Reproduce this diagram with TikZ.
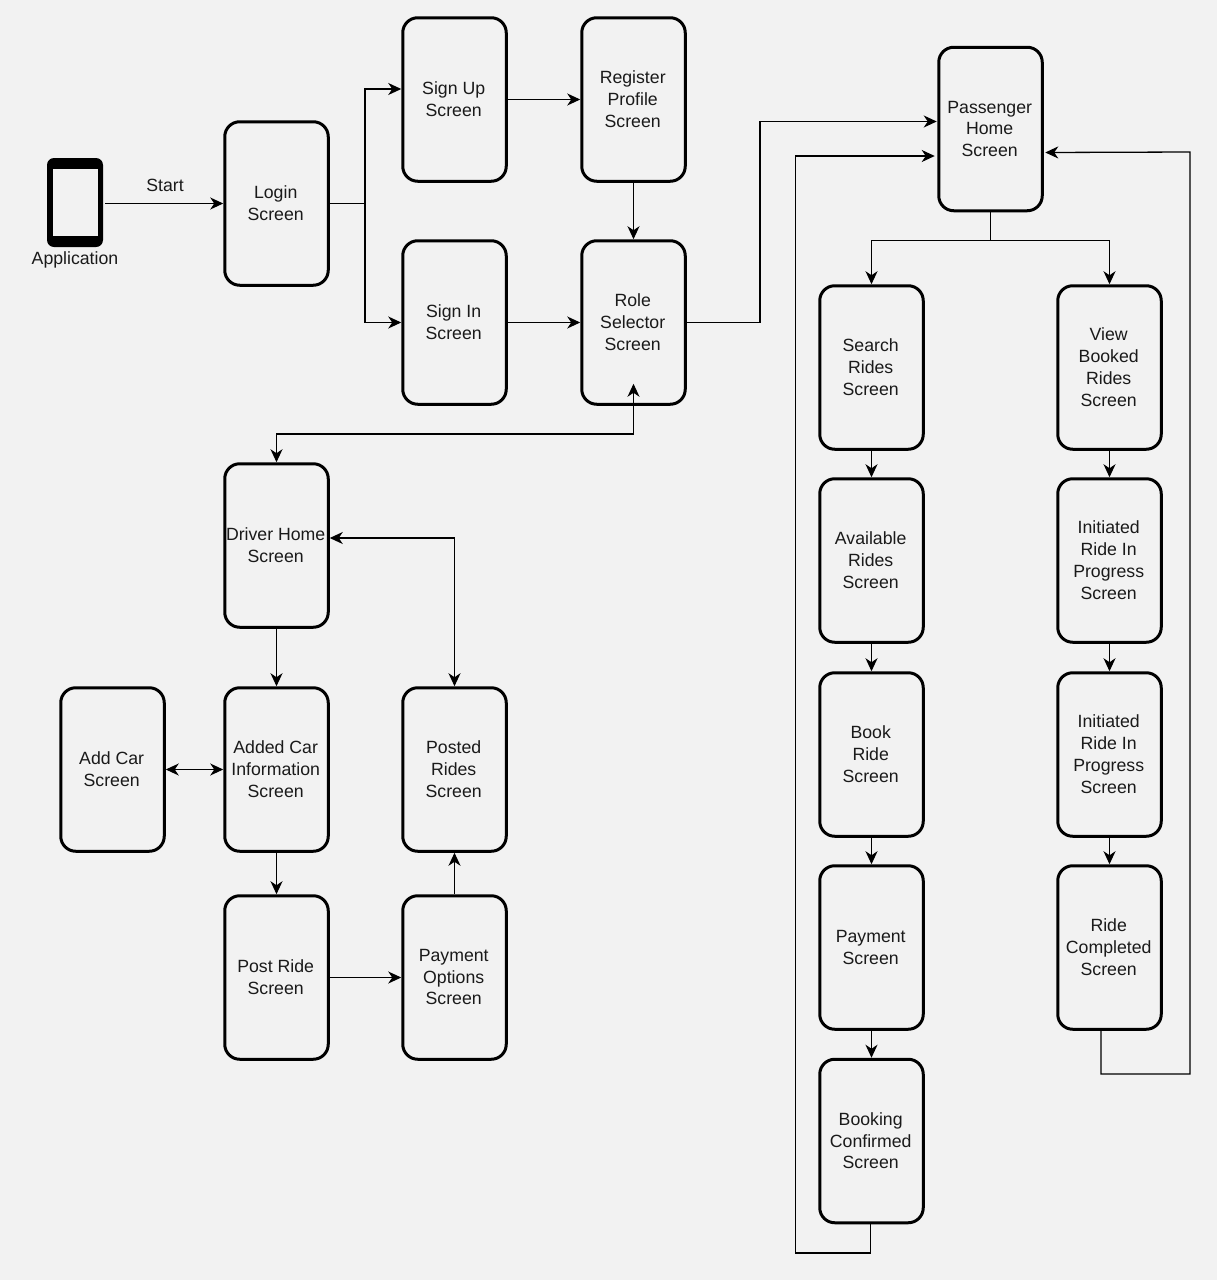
\documentclass[tikz,border=0pt]{standalone}
\usepackage{fontspec}
\setmainfont{Liberation Sans}
\usetikzlibrary{arrows.meta}
\definecolor{bgc}{HTML}{F2F2F2}
\definecolor{txtc}{HTML}{1A1A1A}
\tikzset{
  screen/.style={draw=black,line width=3pt,rounded corners=15pt,minimum width=103.5pt,minimum height=163.5pt,inner sep=0pt,fill=none},
  screentext/.style={align=center,inner sep=0pt,text=txtc,font=\fontsize{17.7pt}{21.7pt}\selectfont},
  conn/.style={draw=black,line width=1.3pt,-{Stealth[length=13pt,width=12pt,inset=4pt]}},
  connb/.style={draw=black,line width=1.3pt,{Stealth[length=13pt,width=12pt,inset=4pt]}-{Stealth[length=13pt,width=12pt,inset=4pt]}},
  plain/.style={draw=black,line width=1.3pt},
}
\newcommand{\scr}[4]{\node[screen] (#1) at (#2,#3) {};
  \node[screentext] (#1t) at ([xshift=-0.8pt,yshift=0.3pt]#1.center) {#4};}
\begin{document}
\begin{tikzpicture}[x=1pt,y=-1pt]
\fill[bgc] (0,0) rectangle (1217,1280);
\useasboundingbox (0,0) rectangle (1217,1280);
% phone
\node[draw=none,fill=black,rounded corners=7pt,minimum width=56pt,minimum height=89pt,inner sep=0pt] (phone) at (75,202.5) {};
\node[draw=none,fill=bgc,minimum width=45pt,minimum height=67pt,inner sep=0pt] (screenp) at (75,202.5) {};
\node[screentext] (applabel) at (75,260) {Application};
\node[screentext] (startlabel) at (165,185) {Start};
\scr{login}{276.5}{203.5}{Login\\Screen}
\scr{signup}{454.5}{99.5}{Sign Up\\Screen}
\scr{signin}{454.5}{322.5}{Sign In\\Screen}
\scr{register}{633.5}{99.5}{Register\\Profile\\Screen}
\scr{role}{633.5}{322.5}{Role\\Selector\\Screen}
\scr{pass}{990.5}{129}{Passenger\\Home\\Screen}
\scr{search}{871.5}{367.5}{Search\\Rides\\Screen}
\scr{avail}{871.5}{560.5}{Available\\Rides\\Screen}
\scr{book}{871.5}{754.5}{Book\\Ride\\Screen}
\scr{pay}{871.5}{947.5}{Payment\\Screen}
\scr{conf}{871.5}{1141}{Booking\\Confirmed\\Screen}
\scr{view}{1109.5}{367.5}{View\\Booked\\Rides\\Screen}
\scr{initA}{1109.5}{560.5}{Initiated\\Ride In\\Progress\\Screen}
\scr{initB}{1109.5}{754.5}{Initiated\\Ride In\\Progress\\Screen}
\scr{done}{1109.5}{947.5}{Ride\\Completed\\Screen}
\scr{driver}{276.5}{545.5}{Driver Home\\Screen}
\scr{added}{276.5}{769.5}{Added Car\\Information\\Screen}
\scr{addcar}{112.5}{769.5}{Add Car\\Screen}
\scr{posted}{454.5}{769.5}{Posted\\Rides\\Screen}
\scr{post}{276.5}{977.5}{Post Ride\\Screen}
\scr{payopt}{454.5}{977.5}{Payment\\Options\\Screen}
% connectors
\coordinate (appout) at (105,203.5);
\draw[conn] (appout) -- (login.west);
\coordinate (lj) at (365,203.5);
\draw[plain] (login.east) -- (lj);
\draw[conn] (lj) |- ([yshift=10.5pt]signup.west);
\draw[conn] (lj) |- (signin.west);
\draw[conn] (signup.east) -- (register.west);
\draw[conn] (signin.east) -- (role.west);
\draw[conn] (register.south) -- (role.north);
\draw[conn] (role.east) -- (760,322.5) -- (760,121.5) -- ([xshift=-0.5pt,yshift=7.5pt]pass.west);
\draw[connb] ([yshift=22pt]role.south) -- (633.5,434) -- (276.5,434) -- (driver.north);
\draw[conn] (pass.south) -- (990.5,240.5) -| (search.north);
\draw[conn] (990.5,240.5) -| (view.north);
\draw[conn] (search.south) -- (avail.north);
\draw[conn] (avail.south) -- (book.north);
\draw[conn] (book.south) -- (pay.north);
\draw[conn] (pay.south) -- (conf.north);
\draw[conn] (view.south) -- (initA.north);
\draw[conn] (initA.south) -- (initB.north);
\draw[conn] (initB.south) -- (done.north);
\coordinate (confout) at (870.5,1223);
\draw[conn] (confout) -- (870.5,1253) -- (795.7,1253) -- (795.7,156) -- ([xshift=-2.5pt,yshift=-27pt]pass.west);
\coordinate (doneout) at (1101,1030);
\draw[conn] (doneout) -- (1101,1074) -- (1190,1074) -- (1190,152) -- ([xshift=1.5pt,yshift=-23.5pt]pass.east);
\draw[connb] ([yshift=7.5pt]driver.east) -- (454.5,538) -- (posted.north);
\draw[conn] (driver.south) -- (added.north);
\draw[connb] (addcar.east) -- (added.west);
\draw[conn] (added.south) -- (post.north);
\draw[conn] (post.east) -- (payopt.west);
\draw[conn] (payopt.north) -- (posted.south);
\end{tikzpicture}
\end{document}
